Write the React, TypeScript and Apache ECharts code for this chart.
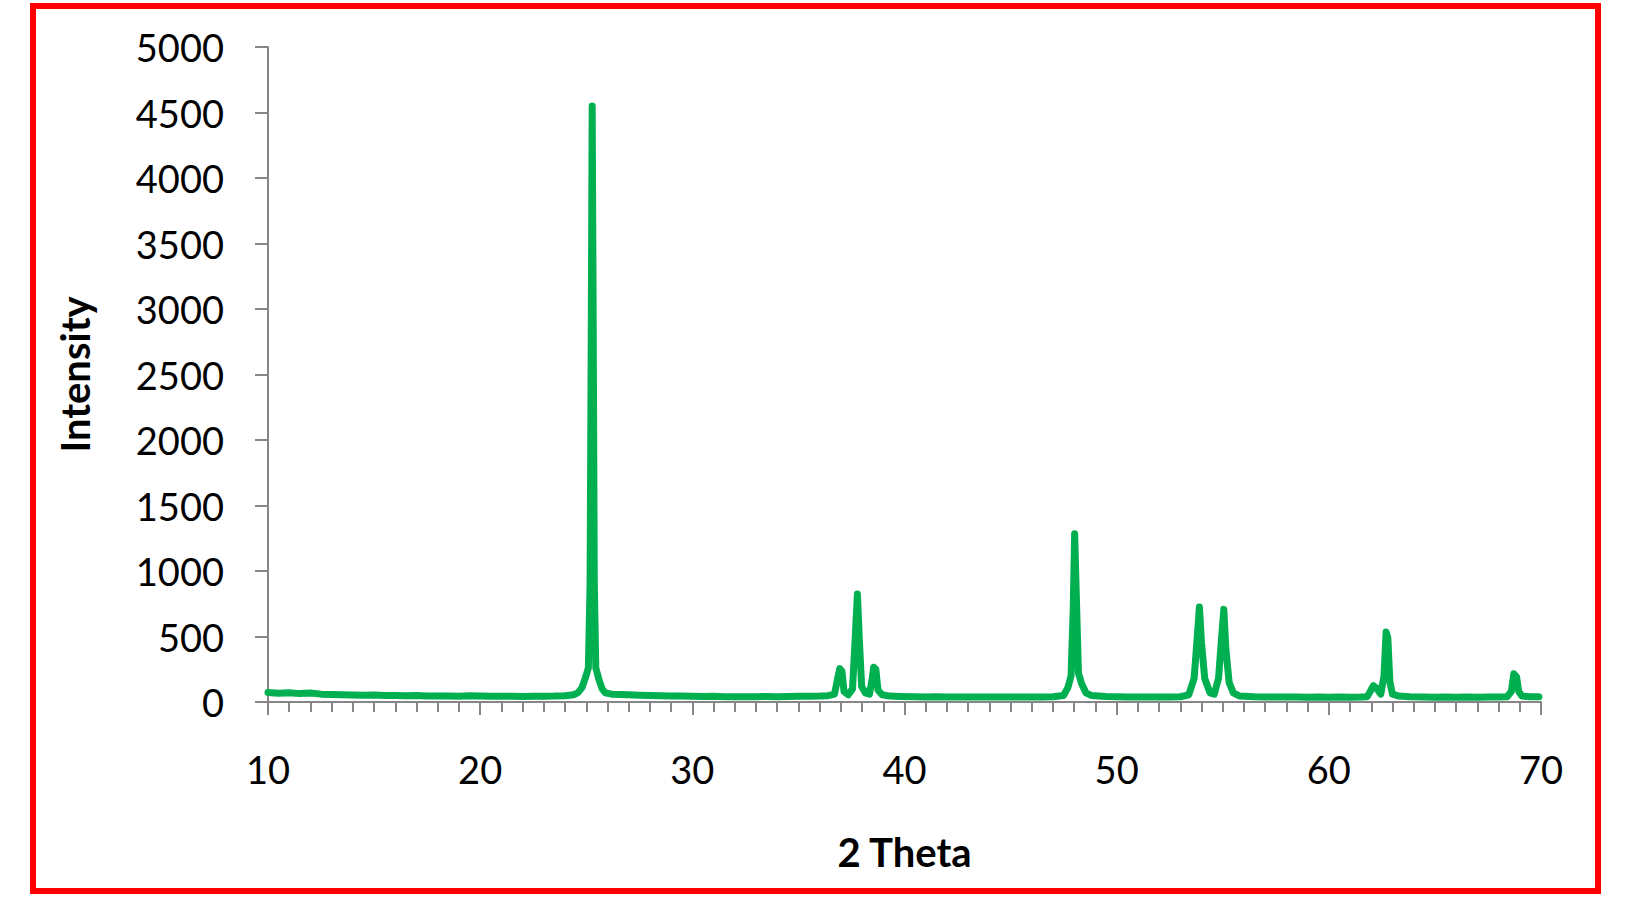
import React, { useEffect, useRef } from "react";
import * as echarts from "echarts";

const twoTheta: number[] = [
  10.0, 10.5, 11.0, 11.5, 12.0, 12.5, 13.0, 13.5, 14.0, 14.5,
  15.0, 15.5, 16.0, 16.5, 17.0, 17.5, 18.0, 18.5, 19.0, 19.5,
  20.0, 20.5, 21.0, 21.5, 22.0, 22.5, 23.0, 23.5, 24.0, 24.4,
  24.6, 24.8, 24.95, 25.1, 25.18, 25.23, 25.28, 25.33, 25.38, 25.45,
  25.6, 25.75, 25.9, 26.2, 26.6, 27.0, 27.5, 28.0, 28.5, 29.0,
  29.5, 30.0, 30.5, 31.0, 31.5, 32.0, 32.5, 33.0, 33.5, 34.0,
  34.5, 35.0, 35.5, 36.0, 36.4, 36.7, 36.85, 36.95, 37.05, 37.15,
  37.35, 37.55, 37.68, 37.78, 37.88, 37.98, 38.15, 38.35, 38.48, 38.55,
  38.65, 38.75, 38.95, 39.3, 39.8, 40.5, 41.0, 41.5, 42.0, 42.5,
  43.0, 43.5, 44.0, 44.5, 45.0, 45.5, 46.0, 46.5, 47.0, 47.5,
  47.7, 47.85, 47.95, 48.02, 48.1, 48.2, 48.35, 48.55, 48.8, 49.5,
  50.0, 50.5, 51.0, 51.5, 52.0, 52.5, 53.0, 53.4, 53.65, 53.8,
  53.9, 54.0, 54.15, 54.4, 54.6, 54.8, 54.95, 55.05, 55.15, 55.3,
  55.5, 55.8, 56.5, 57.0, 57.5, 58.0, 58.5, 59.0, 59.5, 60.0,
  60.5, 61.0, 61.5, 61.8, 61.95, 62.1, 62.25, 62.45, 62.6, 62.7,
  62.78, 62.88, 63.0, 63.3, 63.8, 64.5, 65.0, 65.5, 66.0, 66.5,
  67.0, 67.5, 68.0, 68.4, 68.6, 68.72, 68.85, 68.95, 69.1, 69.5,
  69.9,
];

const intensity: number[] = [
  72, 66, 70, 64, 68, 60, 58, 56, 54, 52,
  53, 50, 49, 48, 50, 46, 45, 46, 44, 47,
  45, 44, 43, 44, 42, 43, 44, 45, 48, 55,
  70, 110, 180, 260, 900, 2600, 4550, 2800, 900, 260,
  170, 100, 70, 60, 58, 55, 52, 50, 48, 46,
  45, 44, 42, 43, 41, 40, 41, 40, 42, 41,
  42, 43, 44, 45, 48, 60, 180, 255, 235, 80,
  55, 100, 500, 825, 450, 120, 70, 60, 180, 265,
  250, 90, 55, 45, 42, 40, 39, 40, 38, 39,
  38, 39, 38, 39, 38, 39, 38, 39, 40, 50,
  110, 200, 700, 1285, 800, 220, 140, 70, 50, 42,
  40, 39, 38, 39, 38, 39, 40, 55, 180, 500,
  725, 450, 180, 70, 60, 180, 500, 707, 400, 150,
  70, 45, 40, 39, 38, 39, 38, 37, 38, 37,
  38, 37, 38, 40, 80, 125, 105, 60, 200, 535,
  490, 150, 60, 45, 40, 38, 37, 38, 37, 38,
  37, 38, 38, 40, 80, 215, 190, 80, 45, 40,
  40,
];

const xTicks: number[] = [10, 20, 30, 40, 50, 60, 70];
const yTicks: number[] = [0, 500, 1000, 1500, 2000, 2500, 3000, 3500, 4000, 4500, 5000];

const AXIS_GRAY = "#868686";
const LINE_GREEN = "#00B050";
const FONT = "Lato, 'Open Sans', sans-serif";

export default function App() {
  const ref = useRef<HTMLDivElement>(null);

  useEffect(() => {
    if (!ref.current) return;
    const chart = echarts.init(ref.current, undefined, { renderer: "svg" });
    const seriesData = twoTheta.map((x, i) => [x, intensity[i]]);

    chart.setOption({
      animation: false,
      backgroundColor: "#ffffff",
      graphic: [
        {
          type: "rect",
          shape: { x: 33, y: 6, width: 1565, height: 885 },
          style: { fill: "none", stroke: "#FF0000", lineWidth: 6 },
          silent: true,
          z: 100,
        },
      ],
      grid: { left: 268, right: 91, top: 47, bottom: 210, containLabel: false },
      xAxis: {
        type: "value",
        min: xTicks[0],
        max: xTicks[xTicks.length - 1],
        interval: xTicks[1] - xTicks[0],
        name: "2 Theta",
        nameLocation: "middle",
        nameGap: 130,
        nameTextStyle: { fontSize: 40, fontWeight: "bold", fontFamily: FONT, color: "#000" },
        axisLine: { show: true, onZero: false, lineStyle: { color: AXIS_GRAY, width: 2 } },
        axisTick: { show: true, length: 13, lineStyle: { color: AXIS_GRAY, width: 2 } },
        minorTick: { show: true, splitNumber: 10, length: 10, lineStyle: { color: AXIS_GRAY, width: 2 } },
        splitLine: { show: false },
        minorSplitLine: { show: false },
        axisLabel: { fontSize: 38, fontFamily: FONT, color: "#000", margin: 48, formatter: (v: number) => String(v) },
      },
      yAxis: {
        type: "value",
        min: yTicks[0],
        max: yTicks[yTicks.length - 1],
        interval: yTicks[1] - yTicks[0],
        name: "Intensity",
        nameLocation: "middle",
        nameRotate: 90,
        nameGap: 173,
        nameTextStyle: { fontSize: 40, fontWeight: "bold", fontFamily: FONT, color: "#000" },
        axisLine: { show: true, lineStyle: { color: AXIS_GRAY, width: 2 } },
        axisTick: { show: true, length: 13, lineStyle: { color: AXIS_GRAY, width: 2 } },
        splitLine: { show: false },
        axisLabel: { fontSize: 38, fontFamily: FONT, color: "#000", margin: 44, formatter: (v: number) => String(v) },
      },
      series: [
        {
          type: "line",
          data: seriesData,
          showSymbol: false,
          symbol: "none",
          lineStyle: { color: LINE_GREEN, width: 7, join: "round", cap: "round" },
          itemStyle: { color: LINE_GREEN },
        },
      ],
    });

    return () => chart.dispose();
  }, []);

  return (
    <div
      ref={ref}
      style={{ position: "fixed", left: 0, top: 0, width: 1632, height: 912, background: "#fff" }}
    />
  );
}
